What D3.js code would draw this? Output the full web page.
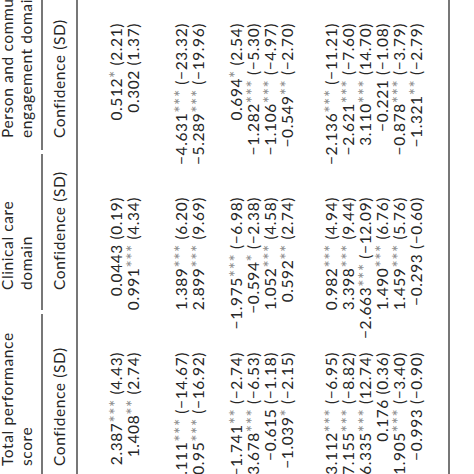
<!DOCTYPE html>
<html><head><meta charset="utf-8">
<script src="https://cdn.jsdelivr.net/npm/d3@7"></script>
<style>body{margin:0;background:#fff}</style>
</head><body>
<script>
// table is printed rotated -90deg, so rows run left to right
var rowSlots = [0, 1, 3.8, 4.8, 7, 8, 9, 10, 12.6, 13.6, 14.6, 15.6, 16.6, 17.6];

var columns = ["Total performance|score", "Clinical care|domain", "Person and community|engagement domain"];

var totalCoef = ["2.387***","1.408**","\u22127.111***","\u221210.95***","\u22121.741**","\u22123.678***","\u22120.615","\u22121.039*","\u22123.112***","\u22127.155***","6.335***","0.176","\u22121.905***","\u22120.993"];
var totalSD = ["(4.43)","(2.74)","(\u221214.67)","(\u221216.92)","(\u22122.74)","(\u22126.53)","(\u22121.18)","(\u22122.15)","(\u22126.95)","(\u22128.82)","(12.74)","(0.36)","(\u22123.40)","(\u22120.90)"];

var clinCoef = ["0.0443","0.991***","1.389***","2.899***","\u22121.975***","\u22120.594*","1.052***","0.592**","0.982***","3.398***","\u22122.663***","1.490***","1.459***","\u22120.293"];
var clinSD = ["(0.19)","(4.34)","(6.20)","(9.69)","(\u22126.98)","(\u22122.38)","(4.58)","(2.74)","(4.94)","(9.44)","(\u221212.09)","(6.76)","(5.76)","(\u22120.60)"];

var persCoef = ["0.512*","0.302","\u22124.631***","\u22125.289***","0.694*","\u22121.282***","\u22121.106***","\u22120.549**","\u22122.136***","\u22122.621***","3.110***","\u22120.221","\u22120.878***","\u22121.321**"];
var persSD = ["(2.21)","(1.37)","(\u221223.32)","(\u221219.96)","(2.54)","(\u22125.30)","(\u22124.97)","(\u22122.70)","(\u221211.21)","(\u22127.60)","(14.70)","(\u22121.08)","(\u22123.79)","(\u22122.79)"];

var W = 474, H = 474;
var svg = d3.select("body").append("svg").attr("width", W).attr("height", H);

var x = d3.scaleLinear().domain([0, 17.6]).range([117, 417]);

// each column band: where header starts (bottom) and where values end (top)
var bands = [
  {head: columns[0], start: 466, end: 352, coef: totalCoef, sd: totalSD, lineFrom: 474, lineTo: 314},
  {head: columns[1], start: 290, end: 197, coef: clinCoef, sd: clinSD, lineFrom: 310, lineTo: 154},
  {head: columns[2], start: 138, end: 23, coef: persCoef, sd: persSD, lineFrom: 150, lineTo: 0}
];

var ink = "#262626", star = "#8f8f8f";
var font = "Lato, 'DejaVu Sans', sans-serif";

function rotText(px, py, anchor){
  return svg.append("text")
    .attr("transform", "translate(" + px + "," + py + ") rotate(-90)")
    .attr("text-anchor", anchor)
    .attr("dy", "0.35em")
    .style("font-family", font)
    .style("font-size", "15.5px")
    .style("letter-spacing", "0.6px")
    .style("fill", ink);
}

bands.forEach(function(b){
  var parts = b.head.split("|");
  rotText(8, b.start, "start").text(parts[0]);
  rotText(27, b.start, "start").text(parts[1]);
  rotText(60, b.start, "start").text("Confidence (SD)");

  svg.append("line").attr("x1", 42).attr("x2", 42)
    .attr("y1", b.lineFrom).attr("y2", b.lineTo)
    .attr("stroke", "#555").attr("stroke-width", 1.6);

  b.coef.forEach(function(c, i){
    var t = rotText(x(rowSlots[i]), b.end, "end");
    var m = c.match(/^([^*]*)(\**)$/);
    t.append("tspan").text(m[1]);
    if (m[2]) t.append("tspan").style("fill", star).style("font-size", "17px").text(m[2]);
    t.append("tspan").text(" " + b.sd[i]);
  });
});

svg.append("line").attr("x1", 77).attr("x2", 77).attr("y1", 0).attr("y2", H)
  .attr("stroke", "#555").attr("stroke-width", 1.6);
svg.append("line").attr("x1", 449).attr("x2", 449).attr("y1", 0).attr("y2", H)
  .attr("stroke", "#555").attr("stroke-width", 1.6);
</script>
</body></html>
